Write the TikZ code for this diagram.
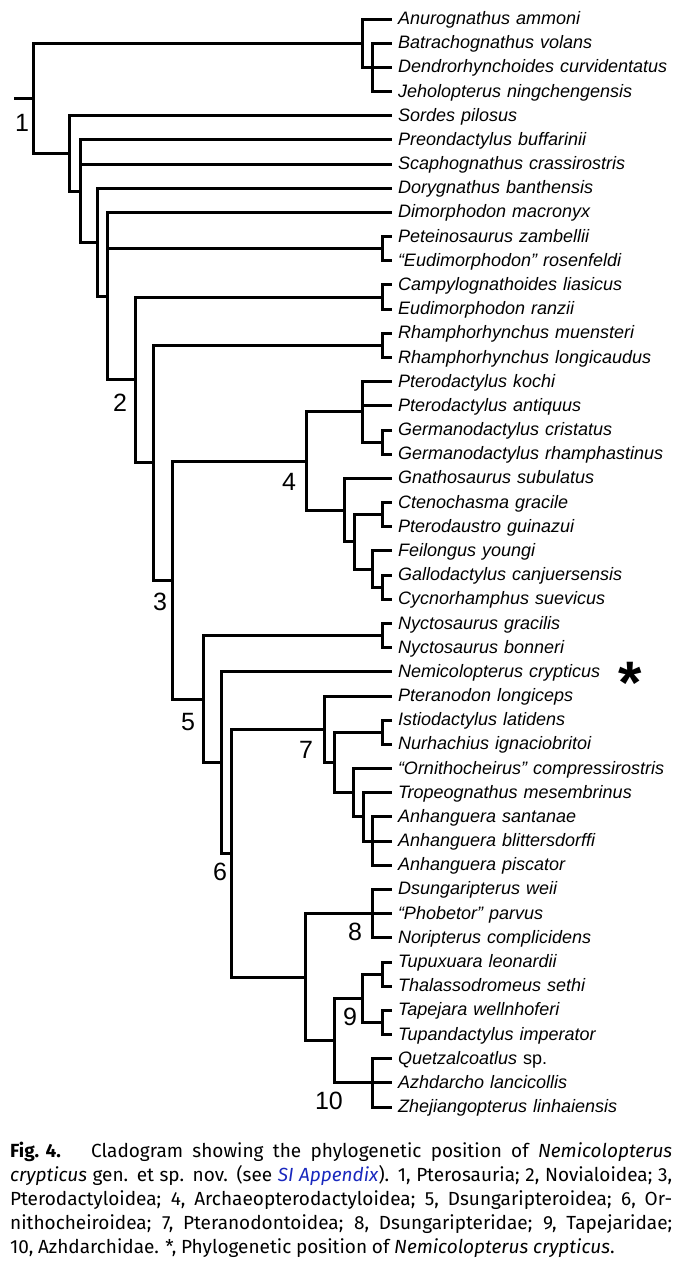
\documentclass[tikz,border=0pt]{standalone}
\usepackage{fontspec}
\setmainfont{Liberation Sans}
\newfontfamily\capfont{Fira Sans}
\usetikzlibrary{positioning,calc}
\definecolor{silink}{RGB}{25,40,190}

\begin{document}
\begin{tikzpicture}[x=1pt,y=-1pt,
        tip/.style={font=\fontsize{18}{21}\selectfont\itshape,text width=274pt,align=left,
          text height=13pt,text depth=2pt,inner xsep=6pt,inner ysep=4.59pt,outer sep=0pt,node distance=0pt},
        branch/.style={line width=3pt},
        num/.style={font=\fontsize{25}{25}\selectfont,inner sep=0pt},
        asterisk/.style={font=\fontsize{60}{60}\selectfont\bfseries,inner sep=0pt}]

        \path[use as bounding box,fill=white] (0,0) rectangle (685,1269);

        % tips
        \node (anu) [tip,anchor=west] at (392,19) {Anurognathus ammoni};
        \node (bat) [tip,below=of anu] {Batrachognathus volans};
        \node (den) [tip,below=of bat] {Dendrorhynchoides curvidentatus};
        \node (jeh) [tip,below=of den] {Jeholopterus ningchengensis};
        \node (sor) [tip,below=of jeh] {Sordes pilosus};
        \node (pre) [tip,below=of sor] {Preondactylus buffarinii};
        \node (sca) [tip,below=of pre] {Scaphognathus crassirostris};
        \node (dor) [tip,below=of sca] {Dorygnathus banthensis};
        \node (dim) [tip,below=of dor] {Dimorphodon macronyx};
        \node (pet) [tip,below=of dim] {Peteinosaurus zambellii};
        \node (eur) [tip,below=of pet] {“Eudimorphodon” rosenfeldi};
        \node (cam) [tip,below=of eur] {Campylognathoides liasicus};
        \node (eud) [tip,below=of cam] {Eudimorphodon ranzii};
        \node (rhm) [tip,below=of eud] {Rhamphorhynchus muensteri};
        \node (rhl) [tip,below=of rhm] {Rhamphorhynchus longicaudus};
        \node (pko) [tip,below=of rhl] {Pterodactylus kochi};
        \node (pan) [tip,below=of pko] {Pterodactylus antiquus};
        \node (gcr) [tip,below=of pan] {Germanodactylus cristatus};
        \node (grh) [tip,below=of gcr] {Germanodactylus rhamphastinus};
        \node (gna) [tip,below=of grh] {Gnathosaurus subulatus};
        \node (cte) [tip,below=of gna] {Ctenochasma gracile};
        \node (ptd) [tip,below=of cte] {Pterodaustro guinazui};
        \node (fei) [tip,below=of ptd] {Feilongus youngi};
        \node (gal) [tip,below=of fei] {Gallodactylus canjuersensis};
        \node (cyc) [tip,below=of gal] {Cycnorhamphus suevicus};
        \node (nyg) [tip,below=of cyc] {Nyctosaurus gracilis};
        \node (nyb) [tip,below=of nyg] {Nyctosaurus bonneri};
        \node (nem) [tip,below=of nyb] {Nemicolopterus crypticus};
        \node (pte) [tip,below=of nem] {Pteranodon longiceps};
        \node (ist) [tip,below=of pte] {Istiodactylus latidens};
        \node (nur) [tip,below=of ist] {Nurhachius ignaciobritoi};
        \node (orn) [tip,below=of nur] {“Ornithocheirus” compressirostris};
        \node (tro) [tip,below=of orn] {Tropeognathus mesembrinus};
        \node (ans) [tip,below=of tro] {Anhanguera santanae};
        \node (anb) [tip,below=of ans] {Anhanguera blittersdorffi};
        \node (anp) [tip,below=of anb] {Anhanguera piscator};
        \node (dsu) [tip,below=of anp] {Dsungaripterus weii};
        \node (pho) [tip,below=of dsu] {“Phobetor” parvus};
        \node (nor) [tip,below=of pho] {Noripterus complicidens};
        \node (tux) [tip,below=of nor] {Tupuxuara leonardii};
        \node (tha) [tip,below=of tux] {Thalassodromeus sethi};
        \node (tap) [tip,below=of tha] {Tapejara wellnhoferi};
        \node (tud) [tip,below=of tap] {Tupandactylus imperator};
        \node (que) [tip,below=of tud] {Quetzalcoatlus {\upshape sp.}};
        \node (azh) [tip,below=of que] {Azhdarcho lancicollis};
        \node (zhe) [tip,below=of azh] {Zhejiangopterus linhaiensis};

        \node (ast) [asterisk,anchor=north] at (630,662) {*};

        % clades, halfway between first and last child
        \path let \p1=($(bat)!.5!(jeh)$) in (372,\y1) coordinate (batjeh);
        \path let \p1=($(anu)!.5!(batjeh)$) in (362,\y1) coordinate (anurid);
        \path let \p1=($(pet)!.5!(eur)$) in (382,\y1) coordinate (petros);
        \path let \p1=($(cam)!.5!(eud)$) in (382,\y1) coordinate (campy);
        \path let \p1=($(rhm)!.5!(rhl)$) in (382,\y1) coordinate (rhampho);
        \path let \p1=($(gcr)!.5!(grh)$) in (382,\y1) coordinate (germ);
        \path let \p1=($(pko)!.5!(germ)$) in (362,\y1) coordinate (ptero);
        \path let \p1=($(cte)!.5!(ptd)$) in (382,\y1) coordinate (ctpt);
        \path let \p1=($(gal)!.5!(cyc)$) in (382,\y1) coordinate (gacy);
        \path let \p1=($(fei)!.5!(gacy)$) in (372,\y1) coordinate (feil);
        \path let \p1=($(ctpt)!.5!(feil)$) in (354,\y1) coordinate (ctfe);
        \path let \p1=($(gna)!.5!(ctfe)$) in (344,\y1) coordinate (gnat);
        \path let \p1=($(ptero)!.5!(gnat)$) in (306,\y1) coordinate (cl4);
        \path let \p1=($(nyg)!.5!(nyb)$) in (382,\y1) coordinate (nyct);
        \path let \p1=($(ist)!.5!(nur)$) in (382,\y1) coordinate (istn);
        \path let \p1=($(ans)!.5!(anp)$) in (372,\y1) coordinate (anhg);
        \path let \p1=($(tro)!.5!(anhg)$) in (363,\y1) coordinate (trop);
        \path let \p1=($(orn)!.5!(trop)$) in (353,\y1) coordinate (ornt);
        \path let \p1=($(istn)!.5!(ornt)$) in (334,\y1) coordinate (isor);
        \path let \p1=($(pte)!.5!(isor)$) in (324,\y1) coordinate (cl7);
        \path let \p1=($(dsu)!.5!(nor)$) in (372,\y1) coordinate (cl8);
        \path let \p1=($(tux)!.5!(tha)$) in (382,\y1) coordinate (tutha);
        \path let \p1=($(tap)!.5!(tud)$) in (382,\y1) coordinate (tatu);
        \path let \p1=($(tutha)!.5!(tatu)$) in (362,\y1) coordinate (cl9);
        \path let \p1=($(que)!.5!(zhe)$) in (372,\y1) coordinate (cl10);
        \path let \p1=($(cl9)!.5!(cl10)$) in (334,\y1) coordinate (tapaz);
        \path let \p1=($(cl8)!.5!(tapaz)$) in (305,\y1) coordinate (dsaz);
        \path let \p1=($(cl7)!.5!(dsaz)$) in (231,\y1) coordinate (orni);
        \path let \p1=($(nem)!.5!(orni)$) in (221,\y1) coordinate (cl6);
        \path let \p1=($(nyct)!.5!(cl6)$) in (203,\y1) coordinate (cl5);
        \path let \p1=($(cl4)!.5!(cl5)$) in (172,\y1) coordinate (cl3);
        \path let \p1=($(rhampho)!.5!(cl3)$) in (153,\y1) coordinate (rhpt);
        \path let \p1=($(campy)!.5!(rhpt)$) in (135,\y1) coordinate (cl2);
        \path let \p1=($(dim)!.5!(cl2)$) in (107,\y1) coordinate (dimo);
        \path let \p1=($(dor)!.5!(dimo)$) in (97,\y1) coordinate (dory);
        \path let \p1=($(pre)!.5!(dory)$) in (80,\y1) coordinate (preo);
        \path let \p1=($(sor)!.5!(preo)$) in (69,\y1) coordinate (sord);
        \path let \p1=($(anurid)!.5!(sord)$) in (33,\y1) coordinate (cl1);
        \coordinate [left=19pt of cl1] (stub);

        % branches
        \draw[branch] (stub) -- (cl1) (cl1) |- (anurid) (cl1) |- (sord);
        \draw[branch] (anurid) |- (anu.west) (anurid) |- (batjeh);
        \draw[branch] (batjeh) |- (bat.west) (batjeh) |- (den.west) (batjeh) |- (jeh.west);
        \draw[branch] (sord) |- (sor.west) (sord) |- (preo);
        \draw[branch] (preo) |- (pre.west) (preo) |- (sca.west) (preo) |- (dory);
        \draw[branch] (dory) |- (dor.west) (dory) |- (dimo);
        \draw[branch] (dimo) |- (dim.west) (dimo) |- (petros) (dimo) |- (cl2);
        \draw[branch] (petros) |- (pet.west) (petros) |- (eur.west);
        \draw[branch] (cl2) |- (campy) (cl2) |- (rhpt);
        \draw[branch] (campy) |- (cam.west) (campy) |- (eud.west);
        \draw[branch] (rhpt) |- (rhampho) (rhpt) |- (cl3);
        \draw[branch] (rhampho) |- (rhm.west) (rhampho) |- (rhl.west);
        \draw[branch] (cl3) |- (cl4) (cl3) |- (cl5);
        \draw[branch] (cl4) |- (ptero) (cl4) |- (gnat);
        \draw[branch] (ptero) |- (pko.west) (ptero) |- (pan.west) (ptero) |- (germ);
        \draw[branch] (germ) |- (gcr.west) (germ) |- (grh.west);
        \draw[branch] (gnat) |- (gna.west) (gnat) |- (ctfe);
        \draw[branch] (ctfe) |- (ctpt) (ctfe) |- (feil);
        \draw[branch] (ctpt) |- (cte.west) (ctpt) |- (ptd.west);
        \draw[branch] (feil) |- (fei.west) (feil) |- (gacy);
        \draw[branch] (gacy) |- (gal.west) (gacy) |- (cyc.west);
        \draw[branch] (cl5) |- (nyct) (cl5) |- (cl6);
        \draw[branch] (nyct) |- (nyg.west) (nyct) |- (nyb.west);
        \draw[branch] (cl6) |- (nem.west) (cl6) |- (orni);
        \draw[branch] (orni) |- (cl7) (orni) |- (dsaz);
        \draw[branch] (cl7) |- (pte.west) (cl7) |- (isor);
        \draw[branch] (isor) |- (istn) (isor) |- (ornt);
        \draw[branch] (istn) |- (ist.west) (istn) |- (nur.west);
        \draw[branch] (ornt) |- (orn.west) (ornt) |- (trop);
        \draw[branch] (trop) |- (tro.west) (trop) |- (anhg);
        \draw[branch] (anhg) |- (ans.west) (anhg) |- (anb.west) (anhg) |- (anp.west);
        \draw[branch] (dsaz) |- (cl8) (dsaz) |- (tapaz);
        \draw[branch] (cl8) |- (dsu.west) (cl8) |- (pho.west) (cl8) |- (nor.west);
        \draw[branch] (tapaz) |- (cl9) (tapaz) |- (cl10);
        \draw[branch] (cl9) |- (tutha) (cl9) |- (tatu);
        \draw[branch] (tutha) |- (tux.west) (tutha) |- (tha.west);
        \draw[branch] (tatu) |- (tap.west) (tatu) |- (tud.west);
        \draw[branch] (cl10) |- (que.west) (cl10) |- (azh.west) (cl10) |- (zhe.west);

        % clade numbers
        \node (l1) [num] at (22,123) {1};
        \node (l2) [num] at (120,403) {2};
        \node (l3) [num] at (160,602) {3};
        \node (l4) [num] at (289,482) {4};
        \node (l5) [num] at (188,722) {5};
        \node (l6) [num] at (220,872) {6};
        \node (l7) [num] at (306,750) {7};
        \node (l8) [num] at (355,932) {8};
        \node (l9) [num] at (350,1017) {9};
        \node (l10) [num] at (329,1101) {10};

        % caption
        \node (cap) [anchor=north west,text width=662pt,align=justify,inner sep=0pt,
          font=\capfont\fontsize{19}{24}\selectfont] at (10,1142)
          {\spaceskip=.25em plus .3em minus .1em
           \mbox{\textbf{Fig. 4.}}\hspace{1.6em}Cladogram showing the phylogenetic position of \textit{Nemicolopterus}\linebreak
           \textit{crypticus} gen. et sp. nov. (see \textcolor{silink}{\textit{SI Appendix}}). 1, Pterosauria; 2, Novialoidea; 3,\linebreak
           Pterodactyloidea; 4, Archaeopterodactyloidea; 5, Dsungaripteroidea; 6, Or-\linebreak
           nithocheiroidea; 7, Pteranodontoidea; 8, Dsungaripteridae; 9, Tapejaridae;\linebreak
           10, Azhdarchidae. *, Phylogenetic position of \textit{Nemicolopterus crypticus}.};
\end{tikzpicture}
\end{document}
